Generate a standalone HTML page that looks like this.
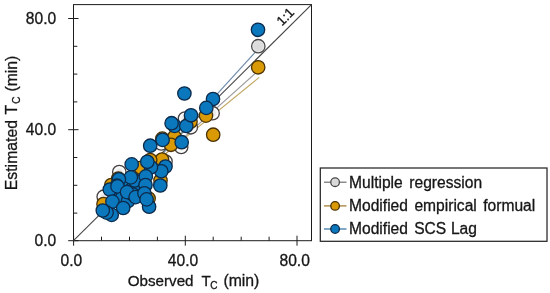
<!DOCTYPE html>
<html><head><meta charset="utf-8"><title>Tc chart</title>
<style>
html,body{margin:0;padding:0;background:#fff;}
body{width:550px;height:293px;overflow:hidden;position:relative;font-family:"Liberation Sans",Arial,sans-serif;}
svg{position:absolute;left:0;top:0;display:block;}
svg text{font-family:"Liberation Sans",Arial,sans-serif;fill:#161616;stroke:#161616;stroke-width:0.3px;}
</style></head><body>
<svg width="550" height="293" viewBox="0 0 550 293">
<defs><radialGradient id="wg" cx="50%" cy="50%" r="50%"><stop offset="0" stop-color="#e2e2e2"/><stop offset="0.4" stop-color="#ebebeb"/><stop offset="0.7" stop-color="#fbfbfb"/><stop offset="1" stop-color="#ffffff"/></radialGradient><radialGradient id="wl" cx="50%" cy="50%" r="50%"><stop offset="0" stop-color="#d6d6d6"/><stop offset="0.7" stop-color="#dbdbdb"/><stop offset="1" stop-color="#f2f2f2"/></radialGradient><radialGradient id="wt" cx="50%" cy="50%" r="50%"><stop offset="0" stop-color="#dadada"/><stop offset="0.74" stop-color="#dedede"/><stop offset="0.92" stop-color="#f8f8f8"/><stop offset="1" stop-color="#ffffff"/></radialGradient></defs>
<rect x="0" y="0" width="550" height="293" fill="#ffffff"/>
<rect x="73.5" y="4.6" width="238.0" height="236.1" fill="none" stroke="#1c1c1c" stroke-width="1"/>
<g stroke="#1c1c1c" stroke-width="1">
<line x1="73.6" y1="235.7" x2="73.6" y2="245.7"/><line x1="68.2" y1="240.7" x2="78.5" y2="240.7"/><line x1="101.5" y1="236.7" x2="101.5" y2="240.7"/><line x1="73.5" y1="213.1" x2="77.3" y2="213.1"/><line x1="129.5" y1="236.7" x2="129.5" y2="240.7"/><line x1="73.5" y1="185.3" x2="77.3" y2="185.3"/><line x1="157.4" y1="236.7" x2="157.4" y2="240.7"/><line x1="73.5" y1="157.5" x2="77.3" y2="157.5"/><line x1="185.3" y1="235.7" x2="185.3" y2="245.7"/><line x1="68.2" y1="129.7" x2="78.5" y2="129.7"/><line x1="213.2" y1="236.7" x2="213.2" y2="240.7"/><line x1="73.5" y1="101.9" x2="77.3" y2="101.9"/><line x1="241.2" y1="236.7" x2="241.2" y2="240.7"/><line x1="73.5" y1="74.1" x2="77.3" y2="74.1"/><line x1="269.1" y1="236.7" x2="269.1" y2="240.7"/><line x1="73.5" y1="46.3" x2="77.3" y2="46.3"/><line x1="297.0" y1="235.7" x2="297.0" y2="245.7"/><line x1="68.2" y1="18.5" x2="78.5" y2="18.5"/>
</g>
<line x1="73.5" y1="240.7" x2="311.5" y2="4.6" stroke="#454545" stroke-width="1.1"/>
<line x1="112" y1="209.3" x2="258.3" y2="48.9" stroke="#6f8cab" stroke-width="1.1"/>
<line x1="112" y1="201.8" x2="258.3" y2="70.7" stroke="#98989e" stroke-width="1.1"/>
<line x1="112" y1="197.4" x2="259.2" y2="77.4" stroke="#c2a662" stroke-width="1.1"/>
<g fill="url(#wg)" stroke="#454040" stroke-width="1.3">
<circle cx="212.6" cy="113.2" r="6.7"/><circle cx="185.0" cy="118.5" r="6.7"/><circle cx="190.8" cy="127.3" r="6.7"/><circle cx="181.2" cy="147.0" r="6.7"/><circle cx="161.3" cy="143.5" r="6.7"/><circle cx="165.5" cy="161.5" r="6.7"/><circle cx="119.3" cy="172.0" r="6.7"/><circle cx="103.7" cy="196.7" r="6.7"/>
</g>
<g fill="url(#wt)" stroke="#4a4a4a" stroke-width="1.3">
<circle cx="258.3" cy="46.2" r="6.7"/>
</g>
<g fill="#d99a06" stroke="#4a3205" stroke-width="1.3">
<circle cx="258.2" cy="67.3" r="6.7"/><circle cx="206.0" cy="115.6" r="6.7"/><circle cx="213.2" cy="134.7" r="6.7"/><circle cx="190.5" cy="121.7" r="6.7"/><circle cx="162.3" cy="138.6" r="6.7"/><circle cx="174.5" cy="136.8" r="6.7"/><circle cx="171.0" cy="144.8" r="6.7"/><circle cx="162.0" cy="159.5" r="6.7"/><circle cx="150.2" cy="160.0" r="6.7"/><circle cx="111.3" cy="185.0" r="6.7"/><circle cx="118.3" cy="178.5" r="6.7"/><circle cx="141.0" cy="167.8" r="6.7"/><circle cx="160.5" cy="180.5" r="6.7"/><circle cx="148.6" cy="198.5" r="6.7"/><circle cx="103.5" cy="204.0" r="6.7"/>
</g>
<g fill="#0b78be" stroke="#0c2a4a" stroke-width="1.3">
<circle cx="258.0" cy="29.8" r="6.7"/><circle cx="184.4" cy="93.5" r="6.7"/><circle cx="213.0" cy="99.0" r="6.7"/><circle cx="206.3" cy="107.9" r="6.7"/><circle cx="174.5" cy="125.9" r="6.7"/><circle cx="186.3" cy="126.0" r="6.7"/><circle cx="171.6" cy="123.2" r="6.7"/><circle cx="191.0" cy="115.3" r="6.7"/><circle cx="162.6" cy="139.9" r="6.7"/><circle cx="150.2" cy="145.7" r="6.7"/><circle cx="181.7" cy="142.2" r="6.7"/><circle cx="165.5" cy="166.5" r="6.7"/><circle cx="161.3" cy="171.3" r="6.7"/><circle cx="160.3" cy="185.5" r="6.7"/><circle cx="131.7" cy="164.4" r="6.7"/><circle cx="118.4" cy="190.5" r="6.7"/><circle cx="126.0" cy="184.8" r="6.7"/><circle cx="122.0" cy="198.0" r="6.7"/><circle cx="128.0" cy="201.0" r="6.7"/><circle cx="133.0" cy="187.5" r="6.7"/><circle cx="139.5" cy="190.8" r="6.7"/><circle cx="133.0" cy="194.5" r="6.7"/><circle cx="151.0" cy="167.3" r="6.7"/><circle cx="147.3" cy="161.8" r="6.7"/><circle cx="134.6" cy="180.5" r="6.7"/><circle cx="130.8" cy="177.4" r="6.7"/><circle cx="145.8" cy="176.4" r="6.7"/><circle cx="118.9" cy="179.4" r="6.7"/><circle cx="116.8" cy="185.6" r="6.7"/><circle cx="145.5" cy="185.0" r="6.7"/><circle cx="109.8" cy="189.5" r="6.7"/><circle cx="117.5" cy="186.4" r="6.7"/><circle cx="127.0" cy="192.1" r="6.7"/><circle cx="135.6" cy="197.1" r="6.7"/><circle cx="144.4" cy="193.3" r="6.7"/><circle cx="149.1" cy="206.7" r="6.7"/><circle cx="146.6" cy="199.4" r="6.7"/><circle cx="112.4" cy="201.6" r="6.7"/><circle cx="123.2" cy="208.0" r="6.7"/><circle cx="111.7" cy="214.9" r="6.7"/><circle cx="106.6" cy="212.6" r="6.7"/><circle cx="102.8" cy="210.5" r="6.7"/>
</g>
<g font-size="15.6px">
<text x="56.2" y="246.3" text-anchor="end">0.0</text><text x="71.3" y="265.7" text-anchor="middle">0.0</text><text x="56.2" y="135.3" text-anchor="end">40.0</text><text x="183.0" y="265.7" text-anchor="middle">40.0</text><text x="56.2" y="24.1" text-anchor="end">80.0</text><text x="294.7" y="265.7" text-anchor="middle">80.0</text>
<text y="285.8" font-size="15.2px"><tspan x="127.7">Observed</tspan><tspan x="201.5">T</tspan><tspan x="210.3" y="288.8" font-size="10px">C</tspan><tspan x="223.4" y="285.8" font-size="15.8px">(min)</tspan></text>
<text transform="translate(16.5,190.2) rotate(-90)" y="0" font-size="15.8px"><tspan x="0">Estimated</tspan><tspan x="75.6">T</tspan><tspan x="86.4" y="3" font-size="10px">C</tspan><tspan x="98.6" y="0">(min)</tspan></text>
<text transform="translate(285.2,16.6) rotate(-45)" text-anchor="middle" font-size="13.3px" dy="4.7">1:1</text>
</g>
<rect x="320.3" y="168" width="226.7" height="73.3" fill="#ffffff" stroke="#262626" stroke-width="1.25"/>
<line x1="324" y1="182.2" x2="346.5" y2="182.2" stroke="#6e6e6e" stroke-width="1.2"/><circle cx="335.1" cy="182.2" r="4.3" fill="url(#wl)" stroke="#454545" stroke-width="1.3"/><text y="187.5" font-size="15.6px"><tspan x="349.0">Multiple</tspan> <tspan x="409.3">regression</tspan></text>
<line x1="324" y1="205.9" x2="346.5" y2="205.9" stroke="#9a7524" stroke-width="1.2"/><circle cx="335.1" cy="205.9" r="4.3" fill="#d99a06" stroke="#4a3205" stroke-width="1.3"/><text y="211.0" font-size="15.6px"><tspan x="349.0">Modified</tspan> <tspan x="414.4">empirical</tspan> <tspan x="483.2">formual</tspan></text>
<line x1="324" y1="229.0" x2="346.5" y2="229.0" stroke="#2f6fa3" stroke-width="1.2"/><circle cx="335.1" cy="229.0" r="4.3" fill="#0b78be" stroke="#0c2a4a" stroke-width="1.3"/><text y="233.8" font-size="15.6px"><tspan x="349.0">Modified</tspan> <tspan x="414.2">SCS</tspan> <tspan x="450.9">Lag</tspan></text>
</svg>
</body></html>
